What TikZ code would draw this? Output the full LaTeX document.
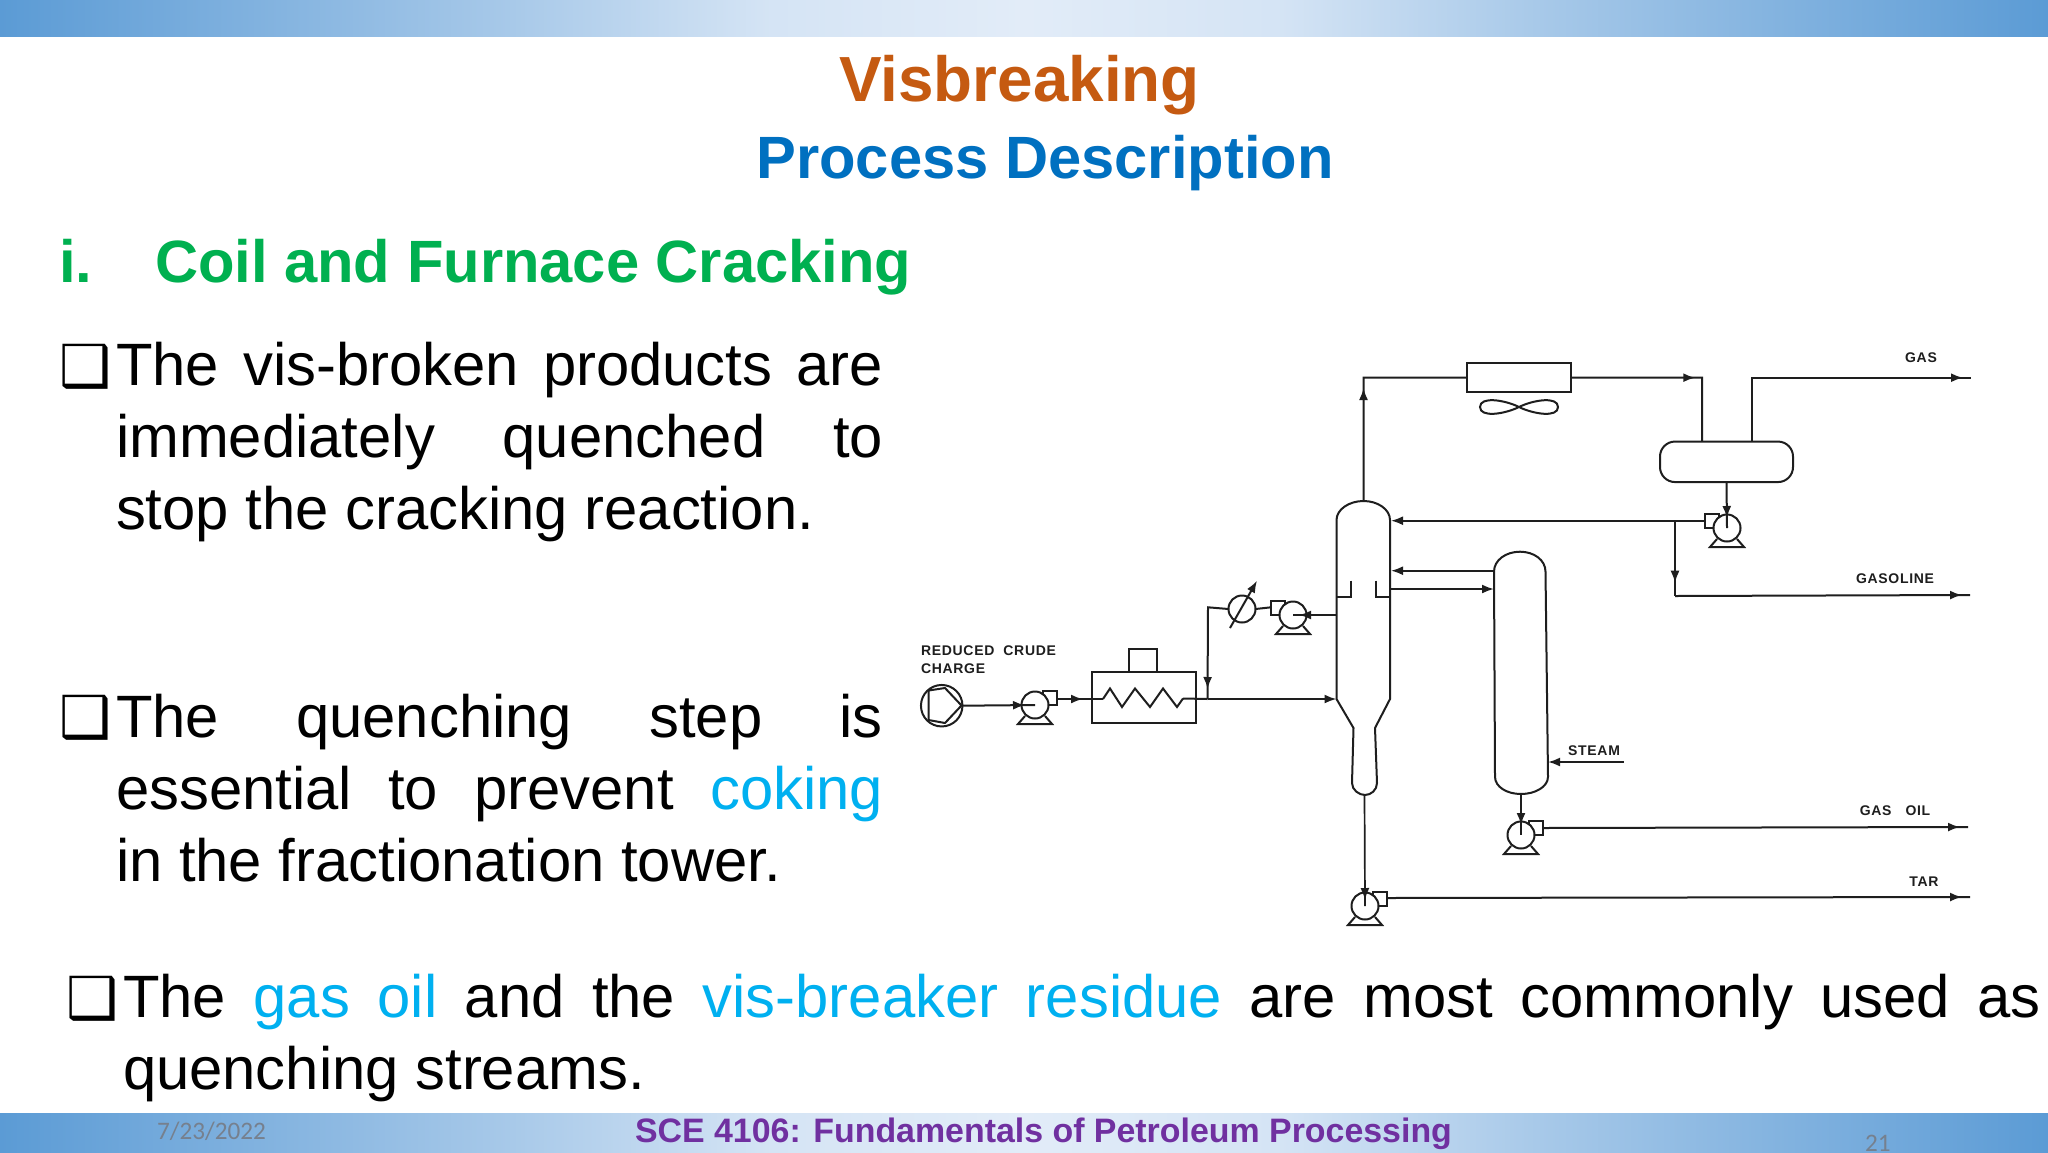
\documentclass[tikz,border=0pt]{standalone}
\usepackage{fontspec}
\setmainfont{Liberation Sans}
\newfontfamily\dvfont{DejaVu Sans}
\newfontfamily\carl{Carlito}
\usetikzlibrary{arrows.meta,decorations.markings}
\definecolor{bandedge}{HTML}{5B9BD5}
\definecolor{bandmid}{HTML}{E2ECF8}
\definecolor{ttlorange}{HTML}{C55A11}
\definecolor{ttlblue}{HTML}{0070C0}
\definecolor{ttlgreen}{HTML}{00B050}
\definecolor{hlcyan}{HTML}{00B0F0}
\definecolor{footpurple}{HTML}{7030A0}
\definecolor{footgray}{HTML}{76808E}
\definecolor{ink}{HTML}{1E1E1E}
\pgfdeclarehorizontalshading{slideband}{100bp}{
  color(0bp)=(bandedge);
  color(25bp)=(bandedge);
  color(31.25bp)=(bandedge!72!bandmid);
  color(37.5bp)=(bandedge!43!bandmid);
  color(43.75bp)=(bandedge!10!bandmid);
  color(50bp)=(bandmid);
  color(56.25bp)=(bandedge!10!bandmid);
  color(62.5bp)=(bandedge!43!bandmid);
  color(68.75bp)=(bandedge!72!bandmid);
  color(75bp)=(bandedge);
  color(100bp)=(bandedge)}
\newcommand{\fsz}[1]{\fontsize{#1}{#1}\selectfont}
\newcommand{\cy}[1]{\textcolor{hlcyan}{#1}}
\tikzset{
  txt/.style={inner sep=0pt,outer sep=0pt,anchor=base west},
  ctr/.style={inner sep=0pt,outer sep=0pt,anchor=base},
  bodytxt/.style={txt,font=\fsz{59.8}},
  bullet/.style={txt,font=\dvfont\fsz{58}},
  lab/.style={ctr,font=\bfseries\fsz{14}\addfontfeatures{LetterSpace=5},text=ink},
  pline/.style={draw=ink,line width=2pt,line join=miter},
  thin line/.style={draw=ink,line width=1.7pt},
  equip/.style={draw=ink,line width=2pt,inner sep=0pt,outer sep=0pt},
  tipend/.style={-{Latex[length=12pt,width=9pt]}},
  headat/.style={postaction={decorate,decoration={markings,mark=at position #1 with {\arrow{Latex[length=12pt,width=9pt]}}}}},
  pumpR/.pic={
    \draw[pline] (8,-14) rectangle (22,0);
    \draw[pline,fill=white] (0,0) circle[radius=13.5];
    \draw[pline] (-10,11) -- (-17,19) -- (17,19) -- (10,11);
  },
  pumpL/.pic={
    \draw[pline] (-8,-14) rectangle (-22,0);
    \draw[pline,fill=white] (0,0) circle[radius=13.5];
    \draw[pline] (-10,11) -- (-17,19) -- (17,19) -- (10,11);
  },
}
\begin{document}
\begin{tikzpicture}[x=1pt,y=-1pt]
\useasboundingbox (0,0) rectangle (2048,1152);
\clip (0,0) rectangle (2048,1152);
\fill[white] (0,0) rectangle (2048,1152);
% bands
\shade[shading=slideband] (0,0) rectangle (2048,36);
\shade[shading=slideband] (0,1113) rectangle (2048,1152);
% titles
\node[ctr,font=\bfseries\fsz{63.8},text=ttlorange] (title) at (1019.5,101) {Visbreaking};
\node[ctr,font=\bfseries\fsz{59.7},text=ttlblue] (subtitle) at (1045,178) {Process Description};
\node[txt,font=\bfseries\fsz{59.7},text=ttlgreen] (inum) at (59,282) {i.};
\node[txt,font=\bfseries\fsz{59.7},text=ttlgreen] (ihead) at (155,282) {Coil and Furnace Cracking};
% bullets & body
\node[bullet] (b1) at (59,386) {❑};
\node[bodytxt] (l1) at (116,385.5) {\hbox to 767pt{The\hfill vis-broken\hfill products\hfill are}};
\node[bodytxt] (l2) at (116,457.5) {\hbox to 767pt{immediately\hfill quenched\hfill to}};
\node[bodytxt] (l3) at (116,529.5) {stop the cracking reaction.};
\node[bullet] (b2) at (59,737) {❑};
\node[bodytxt] (l4) at (116,737) {\hbox to 767pt{The\hfill quenching\hfill step\hfill is}};
\node[bodytxt] (l5) at (116,809) {\hbox to 767pt{essential\hfill to\hfill prevent\hfill \cy{coking}}};
\node[bodytxt] (l6) at (116,881) {in the fractionation tower.};
\node[bullet] (b3) at (66,1018) {❑};
\node[bodytxt] (l7) at (123,1017.5) {\hbox to 1918pt{The\hfill \cy{gas}\hfill \cy{oil}\hfill and\hfill the\hfill \cy{vis-breaker}\hfill \cy{residue}\hfill are\hfill most\hfill commonly\hfill used\hfill as}};
\node[bodytxt] (l8) at (123,1089.5) {quenching streams.};
% footer
\node[txt,font=\carl\fsz{25.2},text=footgray] (date) at (157,1139) {7/23/2022};
\node[ctr,font=\bfseries\fsz{33.9},text=footpurple] (foot) at (1043.5,1142) {SCE 4106: Fundamentals of Petroleum Processing};
\node[txt,font=\carl\fsz{25.2},text=footgray] (pg) at (1865,1151) {21};
% --- equipment ---
\node[equip,minimum width=104.5pt,minimum height=29pt] (cooler) at (1519,377.5) {};
\node[equip,rounded corners=15pt,minimum width=133pt,minimum height=40.5pt] (drum) at (1726.5,461.8) {};
\node[equip,minimum width=104pt,minimum height=51pt] (furn) at (1144,697.5) {};
\draw[pline] (1129,672) -- (1129,649) -- (1157,649) -- (1157,672);
\draw[pline] (1103,699) -- (1110,688.5) -- (1122,707) -- (1135,688.5) -- (1150,707) -- (1163,688.5) -- (1177,707) -- (1183,698.5);
% fan
\coordinate (fanc) at (1519,407);
\draw[pline] (fanc) .. controls (1505,400) and (1480,396) .. (1480,407) .. controls (1480,418) and (1505,414) .. (fanc)
  .. controls (1533,400) and (1558,396) .. (1558,407) .. controls (1558,418) and (1533,414) .. (fanc);
% tower 1
\draw[pline] (1336.5,699) -- (1336.5,520) .. controls (1336.5,509.5) and (1349,501) .. (1363.5,501)
  .. controls (1378,501) and (1390,509.5) .. (1390,520) -- (1390,699) -- (1375,728) -- (1377,783)
  .. controls (1377,790) and (1371,795) .. (1365,795) .. controls (1359,795) and (1352,790) .. (1352,783)
  -- (1353.5,728) -- cycle;
\coordinate (t1top) at (1363.5,501);
\coordinate (t1bot) at (1364.5,795);
\coordinate (t1feed) at (1336.5,699);
\draw[pline] (1351,580.7) -- (1351,596.7) -- (1337,596.7);
\draw[pline] (1376,580.7) -- (1376,596.7) -- (1390,596.7);
% tower 2
\draw[pline] (1494,571.7) .. controls (1494,560) and (1506,551.7) .. (1520,551.7)
  .. controls (1534,551.7) and (1545.5,560) .. (1545.5,571.7) -- (1548,776.7)
  .. controls (1548,787) and (1535,794) .. (1521,794) .. controls (1507,794) and (1495,787) .. (1495,776.7) -- cycle;
\coordinate (t2bot) at (1521,794);
% compressor
\node[equip,circle,minimum size=41.5pt] (comp) at (941.7,705.7) {};
\draw[pline] (928.5,690.5) -- (928.5,720) -- (945,723) -- (961.5,705.5) -- (945,688) -- cycle;
% valve
\node[equip,circle,minimum size=27pt] (valve) at (1242,609) {};
\coordinate (vlo) at (1230,628);
\coordinate (vhi) at (1257,580.7);
\draw[pline,tipend] (vlo) -- (vhi);
% pumps
\coordinate (pchg) at (1035,705);
\pic at (pchg) {pumpR};
\coordinate (pq) at (1293,615);
\pic at (pq) {pumpL};
\coordinate (pgl) at (1727,528);
\pic at (pgl) {pumpL};
\coordinate (pgo) at (1521,835);
\pic at (pgo) {pumpR};
\coordinate (ptar) at (1365,906);
\pic at (ptar) {pumpR};
% --- connectors ---
\coordinate (gasout) at (1971,377.7);
\coordinate (gsout) at (1970,595);
\coordinate (goout) at (1968,827);
\coordinate (tarout) at (1970,897);
\coordinate (j1) at (1675,520.7);
\coordinate (j2) at (1207.5,699);
\coordinate (steam) at (1623.5,762);
% overhead
\draw[pline,headat=113pt] (t1top) -- (1363.5,377.7) -- (cooler.west);
\draw[pline,headat=124pt] (cooler.east) -- (1702,377.7) -- (1702,441.5);
\draw[pline,headat=-8pt] (1752,441.5) -- (1752,377.7) -- (gasout);
% drum to pump and reflux
\draw[pline,headat=-10pt] (drum.south) -- (pgl);
\draw[pline,tipend] (1705,520.7) -- (1391,520.7);
\draw[thin line,headat=62pt] (j1) -- (1675,596);
\draw[pline,headat=-8pt] (1675,596) -- (gsout);
% between towers
\draw[pline,tipend] (1494,570.7) -- (1391,570.7);
\draw[pline,tipend] (1390,589) -- (1494,589);
% steam
\draw[pline,tipend] (steam) -- (1548,762);
% gas oil
\draw[pline,headat=-10pt] (t2bot) -- (pgo);
\draw[pline,headat=-8pt] (1543,828) -- (goout);
% tar
\draw[thin line,headat=-6pt] (t1bot) -- (ptar);
\draw[pline,headat=-8pt] (1387,898) -- (tarout);
% feed
\draw[pline,headat=-10pt] (comp.east) -- (pchg);
\draw[pline,headat=26pt] (1057,699) -- (1103,699);
\draw[pline] (1183,698.5) -- (j2);
\draw[pline,tipend] (j2) -- (t1feed);
% quench
\draw[pline,headat=-6pt] (1336.5,615) -- (pq);
\draw[pline] (1271,607.3) -- (valve.east);
\draw[pline,headat=-10pt] (valve.west) -- (1208,607.3) -- (j2);
% labels
\node[lab] (lgas) at (1921,362) {GAS};
\node[lab] (lgsl) at (1895,583) {GASOLINE};
\node[lab] (lstm) at (1594,755) {STEAM};
\node[lab] (lgo) at (1895,815) {GAS\hspace{14pt}OIL};
\node[lab] (ltar) at (1924,886) {TAR};
\node[lab,anchor=base west] (lrc) at (921,655) {REDUCED\hspace{9pt}CRUDE};
\node[lab,anchor=base west] (lch) at (921,673) {CHARGE};
\end{tikzpicture}
\end{document}
